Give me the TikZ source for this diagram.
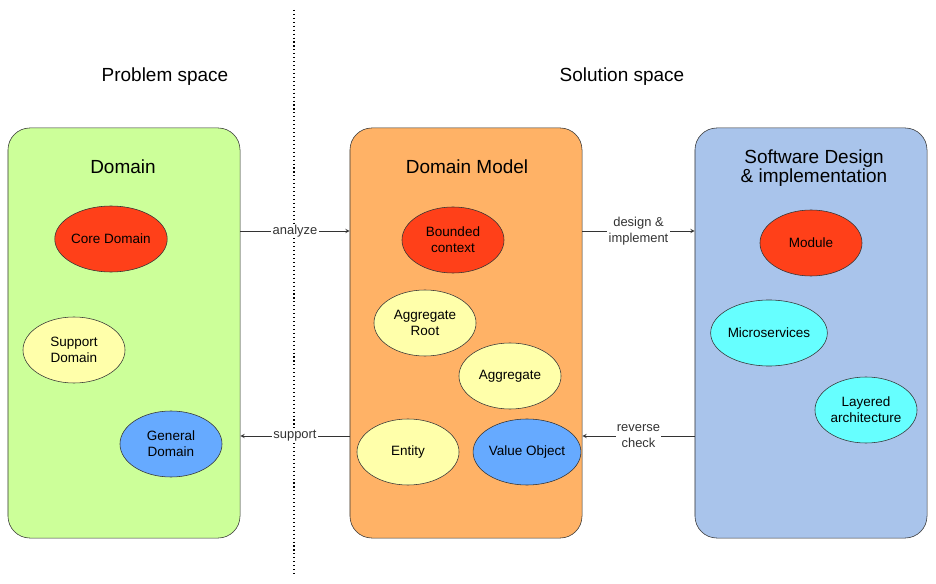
\documentclass[tikz,border=0pt]{standalone}
\usepackage{fontspec}
\setmainfont{Liberation Sans}
\usetikzlibrary{shapes.geometric,arrows,positioning,calc}
\definecolor{spacegreen}{RGB}{204,255,153}
\definecolor{modelorange}{RGB}{255,178,102}
\definecolor{designblue}{RGB}{169,196,235}
\definecolor{corered}{RGB}{255,64,25}
\definecolor{softyellow}{RGB}{255,255,170}
\definecolor{elblue}{RGB}{102,170,255}
\definecolor{elcyan}{RGB}{102,255,255}
\begin{document}
\begin{tikzpicture}[
    x=0.025cm, y=-0.025cm,
    space/.style={rectangle, draw=black!80, rounded corners=0.55cm, minimum width=5.8cm, minimum height=10.25cm},
    concept/.style={ellipse, draw=black!80, minimum width=2.55cm, minimum height=1.65cm, inner sep=0pt, align=center, font=\fontsize{9.6}{11.5}\selectfont},
    boxtitle/.style={font=\fontsize{13.5}{15.5}\selectfont, align=center},
    arrow/.style={->, >=stealth, black!80},
    lbl/.style={fill=white, inner sep=1pt, align=center, font=\fontsize{9.2}{11}\selectfont}
]
\useasboundingbox (0,0) rectangle (936,584);

% dividing line
\coordinate (top) at (294,10);
\coordinate (bottom) at (294,575);
\draw[dotted, thick] (top) -- (bottom);

\node[boxtitle] (problem) at (165,77) {Problem space};
\node[boxtitle] (solution) at (622,77) {Solution space};

% the three spaces
\node[space, fill=spacegreen] (dom) at (124,333) {};
\node[space, fill=modelorange] (dm) at (466,333) {};
\node[space, fill=designblue] (sd) at (811,333) {};

\node[boxtitle] (domt) at (123,167) {Domain};
\node[boxtitle] (dmt) at (467,167) {Domain Model};
\node[boxtitle] (sdt) at (814,168) {Software Design\\[-2pt]\& implementation};

% concepts
\node[concept, fill=corered] (core) at (111,239) {Core Domain};
\node[concept, fill=softyellow] (support) at (74,350) {Support\\Domain};
\node[concept, fill=elblue] (general) at (171,444) {General\\Domain};

\node[concept, fill=corered] (bounded) at (453,240) {Bounded\\context};
\node[concept, fill=softyellow] (aggroot) at (425,323) {Aggregate\\Root};
\node[concept, fill=softyellow] (agg) at (510,376) {Aggregate};
\node[concept, fill=softyellow] (entity) at (408,452) {Entity};
\node[concept, fill=elblue] (value) at (527,452) {Value Object};

\node[concept, fill=corered] (module) at (811,243) {Module};
\node[concept, fill=elcyan] (micro) at (769,333) {Microservices};
\node[concept, fill=elcyan] (layered) at (866,410) {Layered\\architecture};

% connectors
\coordinate (upper) at (0,231);
\coordinate (lower) at (0,436);
\draw[arrow] (dom.east |- upper) -- node[lbl] {analyze} (dm.west |- upper);
\draw[arrow] (dm.east |- upper) -- node[lbl] {design \&\\implement} (sd.west |- upper);
\draw[arrow] (dm.west |- lower) -- node[lbl] {support} (dom.east |- lower);
\draw[arrow] (sd.west |- lower) -- node[lbl] {reverse\\check} (dm.east |- lower);

\end{tikzpicture}
\end{document}
